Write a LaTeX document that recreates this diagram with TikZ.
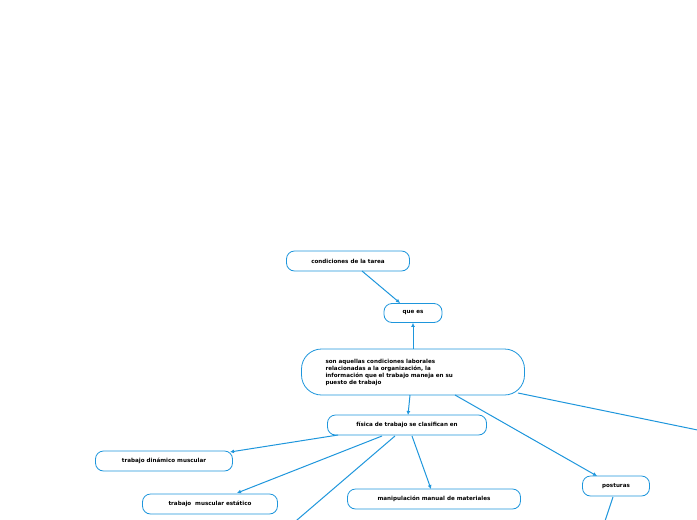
\documentclass[tikz,border=0pt]{standalone}
\usepackage{fontspec}
\setmainfont{DejaVu Sans}
\usetikzlibrary{arrows.meta}
\definecolor{blu}{HTML}{1E96DC}
\begin{document}
\begin{tikzpicture}[x=1pt,y=-1pt,
  box/.style={draw=blu,line width=0.8pt,rounded corners=8pt,fill=white,font=\fontsize{5.6}{7}\selectfont\bfseries,inner sep=0pt,anchor=center},
  conn/.style={draw=blu,line width=1pt,-{Latex[length=4pt,width=4pt]}},
  line/.style={draw=blu,line width=1pt}]
\useasboundingbox (0,0) rectangle (697,520);
\clip (0,0) rectangle (697,520);
\node[box,minimum width=123pt,minimum height=20pt] (cond) at (348,261) {condiciones de la tarea};
\node[box,minimum width=58pt,minimum height=19pt] (que) at (413,313) {que es};
\node[box,minimum width=223pt,minimum height=46pt,rounded corners=20pt,text width=175pt,align=left] (big) at (413,372) {son aquellas condiciones laborales\\relacionadas a la organización, la\\información que el trabajo maneja en su\\puesto de trabajo};
\node[box,minimum width=159pt,minimum height=20pt] (fis) at (407,425) {física de trabajo se clasifican en};
\node[box,minimum width=137pt,minimum height=20pt] (din) at (164,461) {trabajo dinámico muscular};
\node[box,minimum width=135pt,minimum height=20pt] (est) at (210,504) {trabajo\ \ muscular estático};
\node[box,minimum width=173pt,minimum height=20pt] (man) at (434,499) {manipulación manual de materiales};
\node[box,minimum width=67pt,minimum height=20pt] (pos) at (616,486) {posturas};
\coordinate (o1) at (290,526);
\coordinate (o2) at (717,434);
\coordinate (o3) at (602,530);
\draw[conn] (big.north) -- (que.south);
\draw[conn] (362,271) -- (400,303);
\draw[conn] (410,395) -- (408,415);
\draw[conn] (338,435) -- (230,452);
\draw[conn] (382,436) -- (237,493);
\draw[conn] (412,436) -- (431,489);
\draw[line] (395,436) -- (o1);
\draw[conn] (455,395) -- (597,476);
\draw[line] (518,393) -- (o2);
\draw[line] (613,497) -- (o3);
\end{tikzpicture}
\end{document}
